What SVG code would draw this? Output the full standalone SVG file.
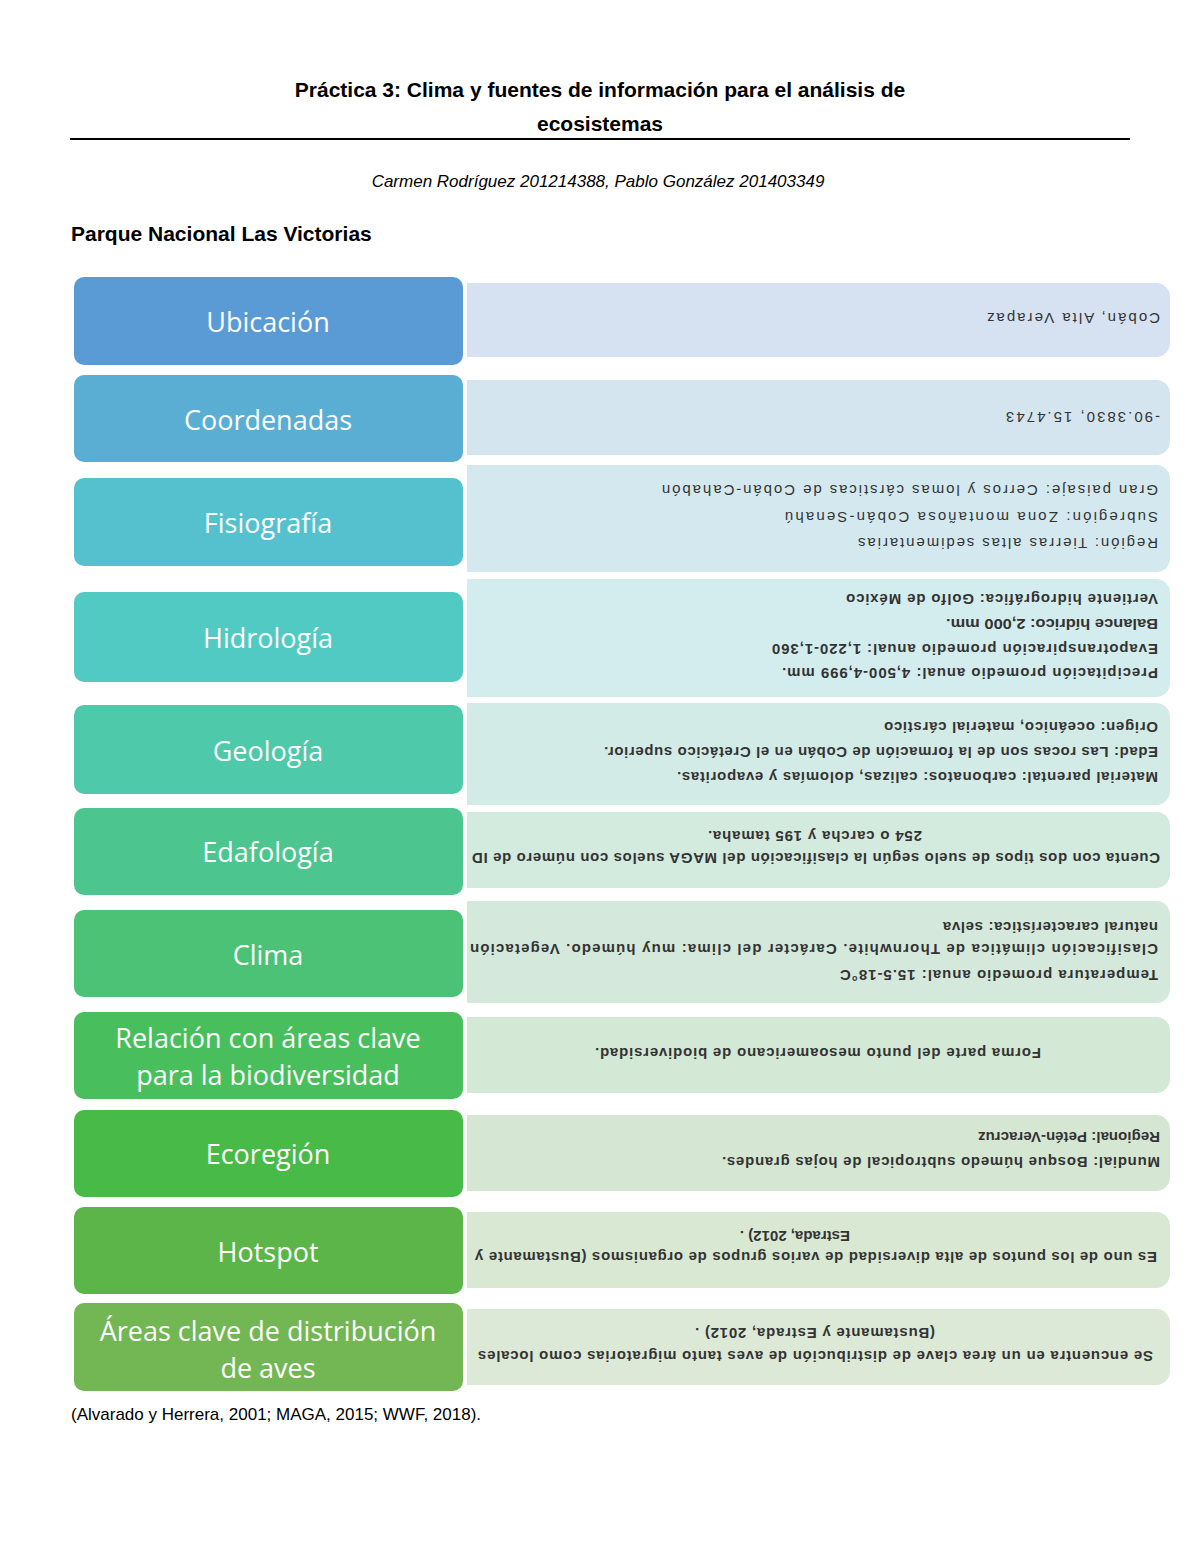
<svg xmlns="http://www.w3.org/2000/svg" width="1200" height="1553" viewBox="0 0 1200 1553">
<style>
.h{font-family:"Liberation Sans",Arial,sans-serif;fill:#000}
.lab{font-family:"Open Sans","Liberation Sans",sans-serif;font-size:27px;fill:#fff;text-anchor:middle}
.r{font-family:"Liberation Sans",Arial,sans-serif;font-size:15px;fill:#333}
.b{font-weight:bold}
</style>
<rect width="1200" height="1553" fill="#fff"/>
<text class="h b" x="600" y="97" font-size="21" text-anchor="middle">Práctica 3: Clima y fuentes de información para el análisis de</text>
<text class="h b" x="600" y="131" font-size="21" text-anchor="middle">ecosistemas</text>
<line x1="70" y1="139" x2="1130" y2="139" stroke="#000" stroke-width="2"/>
<text class="h" x="598" y="187" font-size="17" font-style="italic" text-anchor="middle" fill="#222">Carmen Rodríguez 201214388, Pablo González 201403349</text>
<text class="h b" x="71" y="241" font-size="21">Parque Nacional Las Victorias</text>

<g id="n1"><rect x="74" y="277" width="389" height="88" rx="10" fill="#5B9BD5"/><text class="lab" x="268" y="332">Ubicación</text>
<path d="M467 283H1156a14 14 0 0 1 14 14V343a14 14 0 0 1 -14 14H467Z" fill="#D6E2F1"/>
<text class="r" x="1160" y="313" transform="rotate(180 1160 313)" textLength="173">Cobán, Alta Verapaz</text></g>

<g id="n2"><rect x="74" y="375" width="389" height="87" rx="10" fill="#5AADD3"/><text class="lab" x="268" y="430">Coordenadas</text>
<path d="M467 380H1156a14 14 0 0 1 14 14V441a14 14 0 0 1 -14 14H467Z" fill="#D4E5EF"/>
<text class="r" x="1160" y="412" transform="rotate(180 1160 412)" textLength="154">-90.3830, 15.4743</text></g>

<g id="n3"><rect x="74" y="478" width="389" height="88" rx="10" fill="#55C1CF"/><text class="lab" x="268" y="533">Fisiografía</text>
<path d="M467 465H1156a14 14 0 0 1 14 14V558a14 14 0 0 1 -14 14H467Z" fill="#D3E9EF"/>
<text class="r" x="1158" y="538" transform="rotate(180 1158 538)" textLength="300">Región: Tierras altas sedimentarias</text>
<text class="r" x="1158" y="512" transform="rotate(180 1158 512)" textLength="373">Subregión: Zona montañosa Cobán-Senahú</text>
<text class="r" x="1158" y="485" transform="rotate(180 1158 485)" textLength="496">Gran paisaje: Cerros y lomas cársticas de Cobán-Cahabón</text></g>

<g id="n4"><rect x="74" y="592" width="389" height="90" rx="10" fill="#52CAC4"/><text class="lab" x="268" y="648">Hidrología</text>
<path d="M467 579H1156a14 14 0 0 1 14 14V683a14 14 0 0 1 -14 14H467Z" fill="#D3EDEE"/>
<text class="r b" x="1158" y="668" transform="rotate(180 1158 668)" textLength="376">Precipitación promedio anual: 4,500-4,999 mm.</text>
<text class="r b" x="1158" y="644" transform="rotate(180 1158 644)" textLength="386">Evapotranspiración promedio anual: 1,220-1,360</text>
<text class="r b" x="1158" y="619" transform="rotate(180 1158 619)" textLength="212" lengthAdjust="spacingAndGlyphs">Balance hídrico: 2,000 mm.</text>
<text class="r b" x="1158" y="594" transform="rotate(180 1158 594)" textLength="312">Vertiente hidrográfica: Golfo de México</text></g>

<g id="n5"><rect x="74" y="705" width="389" height="89" rx="10" fill="#4EC9A9"/><text class="lab" x="268" y="761">Geología</text>
<path d="M467 703H1156a14 14 0 0 1 14 14V791a14 14 0 0 1 -14 14H467Z" fill="#D3EBE6"/>
<text class="r b" x="1158" y="772" transform="rotate(180 1158 772)" textLength="481">Material parental: carbonatos: calizas, dolomías y evaporitas.</text>
<text class="r b" x="1158" y="747" transform="rotate(180 1158 747)" textLength="554">Edad: Las rocas son de la formación de Cobán en el Cretácico superior.</text>
<text class="r b" x="1158" y="722" transform="rotate(180 1158 722)" textLength="274">Origen: oceánico, material cárstico</text></g>

<g id="n6"><rect x="74" y="808" width="389" height="87" rx="10" fill="#4CC68E"/><text class="lab" x="268" y="862">Edafología</text>
<path d="M467 812H1156a14 14 0 0 1 14 14V874a14 14 0 0 1 -14 14H467Z" fill="#D3EADF"/>
<text class="r b" x="1160" y="853" transform="rotate(180 1160 853)" textLength="688">Cuenta con dos tipos de suelo según la clasificación del MAGA suelos con número de ID</text>
<text class="r b" x="922" y="831" transform="rotate(180 922 831)" textLength="214">254 o carcha y 195 tamaha.</text></g>

<g id="n7"><rect x="74" y="910" width="389" height="87" rx="10" fill="#4BC275"/><text class="lab" x="268" y="965">Clima</text>
<path d="M467 901H1156a14 14 0 0 1 14 14V989a14 14 0 0 1 -14 14H467Z" fill="#D4E9DB"/>
<text class="r b" x="1158" y="970" transform="rotate(180 1158 970)" textLength="318">Temperatura promedio anual: 15.5-18°C</text>
<text class="r b" x="1158" y="944" transform="rotate(180 1158 944)" textLength="688">Clasificación climática de Thornwhite. Carácter del clima: muy húmedo. Vegetación</text>
<text class="r b" x="1158" y="922" transform="rotate(180 1158 922)" textLength="215">natural característica: selva</text></g>

<g id="n8"><rect x="74" y="1012" width="389" height="87" rx="10" fill="#48BE5C"/><text class="lab" x="268" y="1048">Relación con áreas clave</text><text class="lab" x="268" y="1085">para la biodiversidad</text>
<path d="M467 1017H1156a14 14 0 0 1 14 14V1079a14 14 0 0 1 -14 14H467Z" fill="#D4E8D6"/>
<text class="r b" x="1041" y="1048" transform="rotate(180 1041 1048)" textLength="446">Forma parte del punto mesoamericano de biodiversidad.</text></g>

<g id="n9"><rect x="74" y="1110" width="389" height="87" rx="10" fill="#47BA48"/><text class="lab" x="268" y="1164">Ecoregión</text>
<path d="M467 1115H1156a14 14 0 0 1 14 14V1177a14 14 0 0 1 -14 14H467Z" fill="#D5E7D3"/>
<text class="r b" x="1160" y="1157" transform="rotate(180 1160 1157)" textLength="438">Mundial: Bosque húmedo subtropical de hojas grandes.</text>
<text class="r b" x="1160" y="1132" transform="rotate(180 1160 1132)" textLength="182">Regional: Petén-Veracruz</text></g>

<g id="n10"><rect x="74" y="1207" width="389" height="87" rx="10" fill="#5BB548"/><text class="lab" x="268" y="1262">Hotspot</text>
<path d="M467 1212H1156a14 14 0 0 1 14 14V1274a14 14 0 0 1 -14 14H467Z" fill="#D8E8D3"/>
<text class="r b" x="1157" y="1252" transform="rotate(180 1157 1252)" textLength="682">Es uno de los puntos de alta diversidad de varios grupos de organismos (Bustamante y</text>
<text class="r b" x="850" y="1231" transform="rotate(180 850 1231)">Estrada, 2012) .</text></g>

<g id="n11"><rect x="74" y="1303" width="389" height="88" rx="10" fill="#73B654"/><text class="lab" x="268" y="1341">Áreas clave de distribución</text><text class="lab" x="268" y="1378">de aves</text>
<path d="M467 1309H1156a14 14 0 0 1 14 14V1371a14 14 0 0 1 -14 14H467Z" fill="#DDE9D7"/>
<text class="r b" x="1153" y="1351" transform="rotate(180 1153 1351)" textLength="675">Se encuentra en un área clave de distribución de aves tanto migratorias como locales</text>
<text class="r b" x="935" y="1328" transform="rotate(180 935 1328)" textLength="240">(Bustamante y Estrada, 2012) .</text></g>

<g id="connectors"></g>
<text class="h" x="71" y="1420" font-size="17">(Alvarado y Herrera, 2001; MAGA, 2015; WWF, 2018).</text>
</svg>
